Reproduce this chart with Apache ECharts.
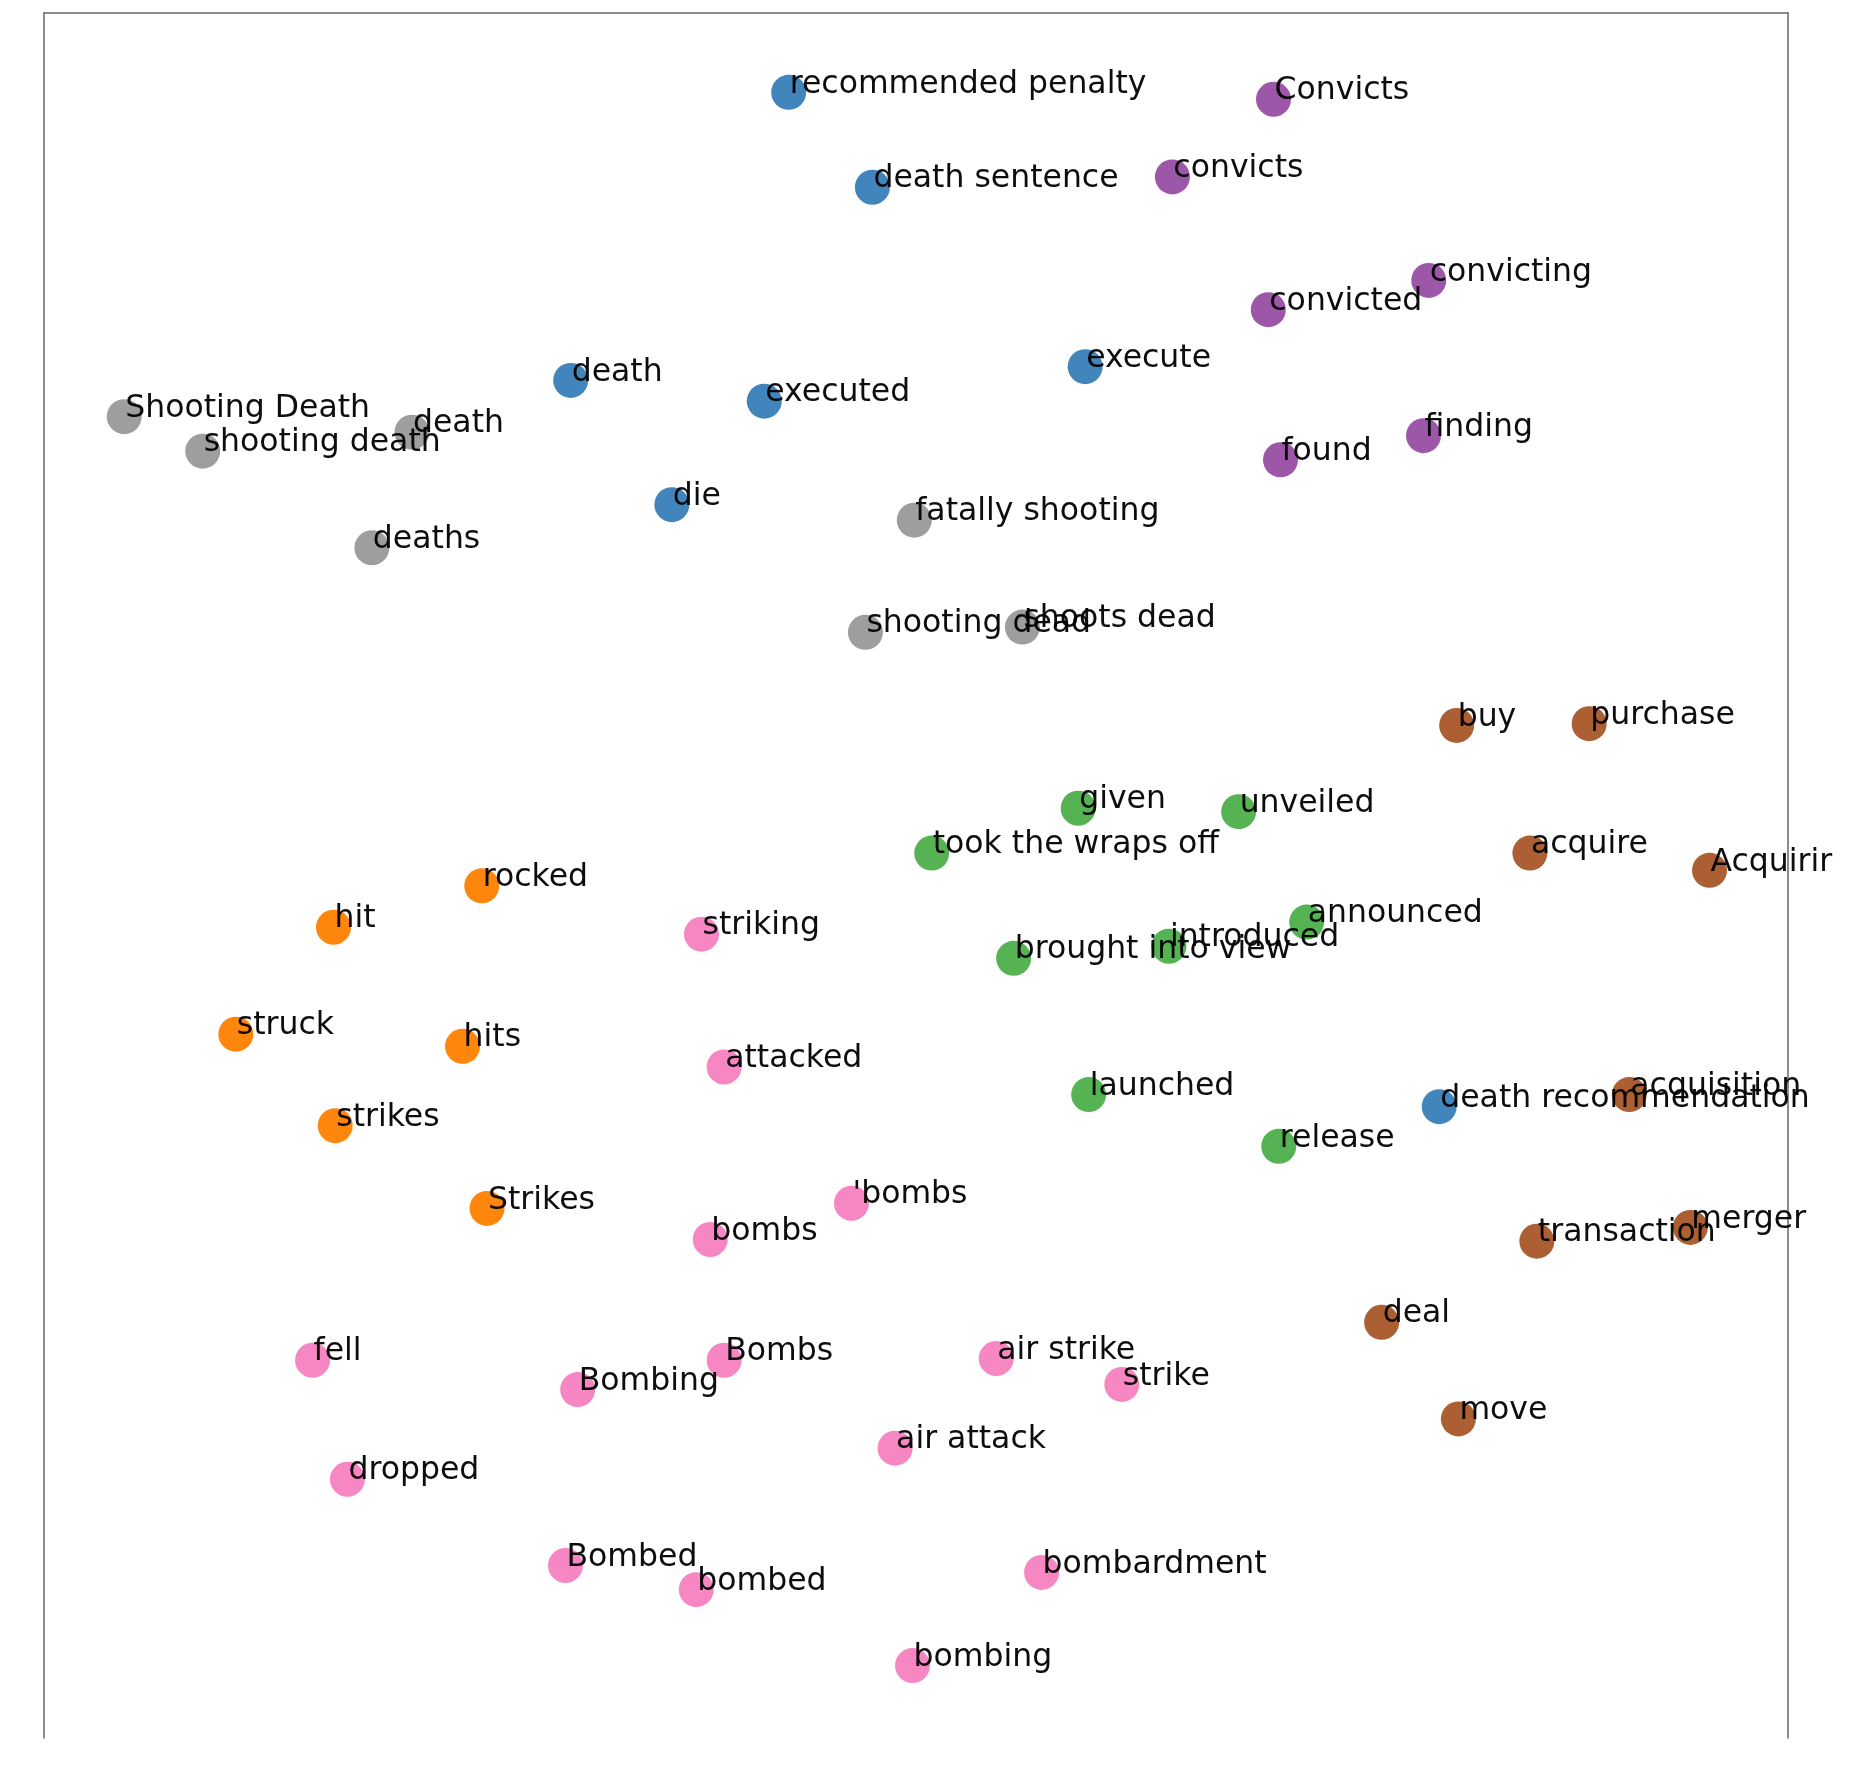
<!DOCTYPE html>
<html>
<head>
<meta charset="utf-8">
<title>word clusters</title>
<script src="https://cdn.jsdelivr.net/npm/echarts@6/dist/echarts.min.js"></script>
<style>
  html, body { margin: 0; padding: 0; background: #fff; }
  #chart { width: 1866px; height: 1777px; }
</style>
</head>
<body>
<div id="chart"></div>
<script>
// word positions, frame = 0..100 on both axes
const grayWords = ["Shooting Death", "shooting death", "death", "deaths", "fatally shooting", "shooting dead", "shoots dead"];
const grayX = [4.6, 9.1, 21.1, 18.8, 49.9, 47.1, 56.1];
const grayY = [76.6, 74.6, 75.7, 69.0, 70.6, 64.1, 64.4];

const blueWords = ["recommended penalty", "death sentence", "death", "executed", "execute", "die", "death recommendation"];
const blueX = [42.7, 47.5, 30.2, 41.3, 59.7, 36.0, 80.0];
const blueY = [95.4, 89.9, 78.7, 77.5, 79.5, 71.5, 36.6];

const purpleWords = ["Convicts", "convicts", "convicting", "convicted", "finding", "found"];
const purpleX = [70.5, 64.7, 79.4, 70.2, 79.1, 70.9];
const purpleY = [95.0, 90.5, 84.5, 82.8, 75.5, 74.1];

const brownWords = ["buy", "purchase", "acquire", "Acquirir", "acquisition", "transaction", "merger", "deal", "move"];
const brownX = [81.0, 88.6, 85.2, 95.5, 90.9, 85.6, 94.4, 76.7, 81.1];
const brownY = [58.7, 58.8, 51.3, 50.3, 37.3, 28.8, 29.6, 24.1, 18.5];

const greenWords = ["given", "unveiled", "took the wraps off", "announced", "introduced", "brought into view", "launched", "release"];
const greenX = [59.3, 68.5, 50.9, 72.4, 64.5, 55.6, 59.9, 70.8];
const greenY = [53.9, 53.7, 51.3, 47.3, 45.9, 45.2, 37.3, 34.3];

const orangeWords = ["rocked", "hit", "struck", "hits", "strikes", "Strikes"];
const orangeX = [25.1, 16.6, 11.0, 24.0, 16.7, 25.4];
const orangeY = [49.4, 47.0, 40.8, 40.1, 35.5, 30.7];

const pinkWords = ["striking", "attacked", "'bombs", "bombs", "fell", "Bombs", "Bombing", "air strike", "strike",
  "air attack", "dropped", "Bombed", "bombed", "bombardment", "bombing"];
const pinkX = [37.7, 39.0, 46.3, 38.2, 15.4, 39.0, 30.6, 54.6, 61.8, 48.8, 17.4, 29.9, 37.4, 57.2, 49.8];
const pinkY = [46.6, 38.9, 31.0, 28.9, 21.9, 21.9, 20.2, 22.0, 20.5, 16.8, 15.0, 10.0, 8.6, 9.6, 4.2];

const dotSize = 35;

function makeSeries(words, xs, ys, color) {
  return {
    type: "scatter",
    symbol: "circle",
    symbolSize: dotSize,
    itemStyle: { color: color, opacity: 0.95 },
    data: words.map(function (w, i) {
      return { name: w, value: [xs[i], ys[i]] };
    }),
    label: {
      show: true,
      formatter: "{b}",
      position: [dotSize / 2, dotSize / 2],
      offset: [1, -8],
      align: "left",
      verticalAlign: "middle",
      fontFamily: "DejaVu Sans",
      fontSize: 31.5,
      color: "#000"
    },
    emphasis: { disabled: true }
  };
}

const frameLine = { show: true, onZero: false, lineStyle: { color: "#666", width: 1.5 } };

const myChart = echarts.init(document.getElementById("chart"));
myChart.setOption({
  animation: false,
  backgroundColor: "#fff",
  grid: { left: 44, right: 78, top: 13, bottom: 39 },
  xAxis: {
    type: "value", min: 0, max: 100, position: "top",
    axisLine: frameLine, axisTick: { show: false }, axisLabel: { show: false }, splitLine: { show: false }
  },
  yAxis: [
    { type: "value", min: 0, max: 100, position: "left",
      axisLine: frameLine, axisTick: { show: false }, axisLabel: { show: false }, splitLine: { show: false } },
    { type: "value", min: 0, max: 100, position: "right",
      axisLine: frameLine, axisTick: { show: false }, axisLabel: { show: false }, splitLine: { show: false } }
  ],
  series: [
    makeSeries(blueWords, blueX, blueY, "#377eb8"),
    makeSeries(purpleWords, purpleX, purpleY, "#984ea3"),
    makeSeries(grayWords, grayX, grayY, "#999999"),
    makeSeries(brownWords, brownX, brownY, "#a65628"),
    makeSeries(greenWords, greenX, greenY, "#4daf4a"),
    makeSeries(orangeWords, orangeX, orangeY, "#ff7f00"),
    makeSeries(pinkWords, pinkX, pinkY, "#f781bf")
  ]
});
</script>
</body>
</html>
